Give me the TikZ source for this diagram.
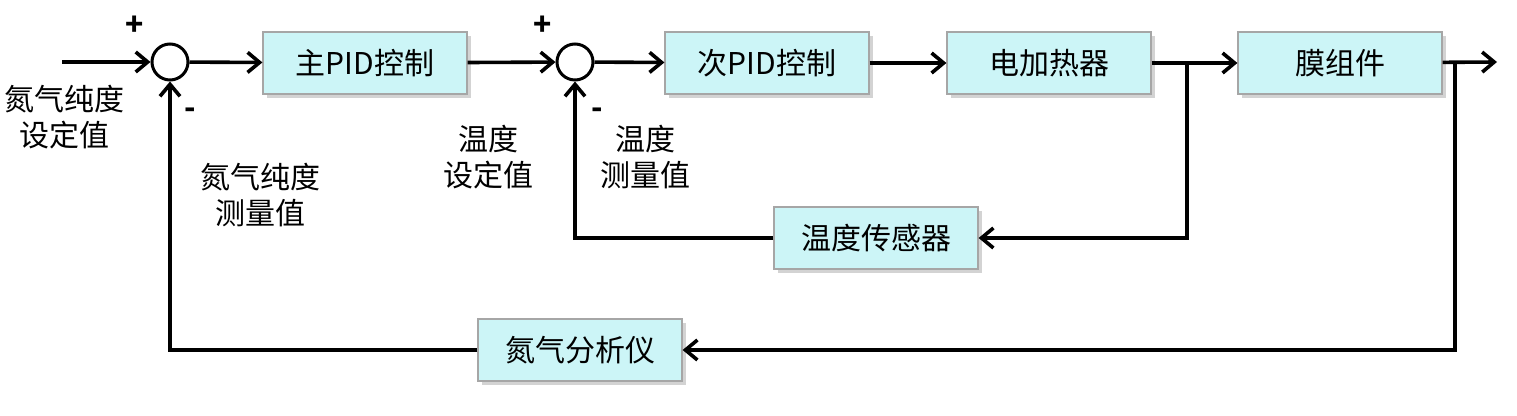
\documentclass[tikz,border=0pt]{standalone}
\usepackage{fontspec}
\setmainfont{Noto Sans CJK SC}
\usetikzlibrary{arrows.meta,shadows}
\definecolor{bfill}{RGB}{204,245,247}
\begin{document}
\begin{tikzpicture}[x=0.5pt,y=-0.5pt,font=\fontsize{15}{18}\selectfont,
  blk/.style={draw=gray!70,line width=0.6pt,fill=bfill,minimum width=102pt,minimum height=31pt,inner sep=0pt,drop shadow={shadow xshift=2pt,shadow yshift=-2pt,opacity=0.35}},
  sm/.style={circle,draw,line width=1.5pt,minimum size=18pt,inner sep=0pt},
  ln/.style={line width=1.8pt,-{Straight Barb[length=6pt,width=10pt,line width=1.8pt]}},
  lb/.style={align=center,font=\fontsize{15}{18}\selectfont}]
\useasboundingbox (0,0) rectangle (1517,416);
\node[sm] (s1) at (170,62) {};
\node[sm] (s2) at (575,62) {};
\node[blk] (pid1) at (365,63) {主PID控制};
\node[blk] (pid2) at (767,63) {次PID控制};
\node[blk] (heat) at (1049,63) {电加热器};
\node[blk] (mem) at (1340,63) {膜组件};
\node[blk] (ts) at (876,238) {温度传感器};
\node[blk] (na) at (580,350) {氮气分析仪};
\coordinate (in) at (62,62);
\coordinate (out) at (1497,62);
\coordinate (b1) at (1187,62);
\coordinate (b2) at (1455,62);
\draw[ln] (in) -- (s1);
\draw[ln] (s1) -- (pid1);
\draw[ln] (pid1) -- (s2);
\draw[ln] (s2) -- (pid2);
\draw[ln] (pid2) -- (heat);
\draw[ln] (heat) -- (mem);
\draw[ln] (mem) -- (out);
\draw[ln] (b1) |- (ts);
\draw[ln] (ts) -| (s2);
\draw[ln] (b2) |- (na);
\draw[ln] (na) -| (s1);
\node[lb] at (135,26) {\textbf{+}};
\node[lb] at (190,113) {\textbf{-}};
\node[lb] at (543,26) {\textbf{+}};
\node[lb] at (597,113) {\textbf{-}};
\node[lb] at (64,117) {氮气纯度\\设定值};
\node[lb] at (260,195) {氮气纯度\\测量值};
\node[lb] at (488,157) {温度\\设定值};
\node[lb] at (645,157) {温度\\测量值};
\end{tikzpicture}
\end{document}
